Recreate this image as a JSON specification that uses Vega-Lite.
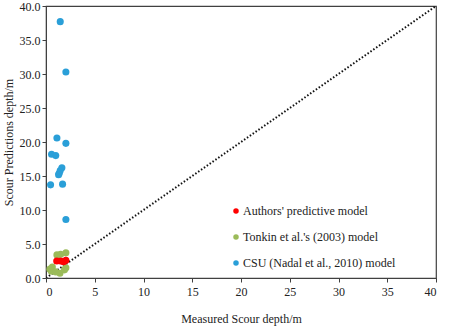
{
  "$schema": "https://vega.github.io/schema/vega-lite/v6.json",
  "width": 390,
  "height": 272,
  "autosize": {"type": "none"},
  "padding": {"left": 46, "top": 6, "right": 38, "bottom": 57},
  "background": "white",
  "config": {
    "view": {"stroke": "#404040", "strokeWidth": 1.2},
    "font": "Liberation Serif",
    "axis": {"labelFont": "Liberation Serif", "titleFont": "Liberation Serif", "labelFontSize": 12, "titleFontSize": 12, "titleFontWeight": "normal", "labelColor": "#222", "titleColor": "#222", "domainColor": "#404040", "tickColor": "#404040", "grid": false, "labelOverlap": false},
    "legend": {"labelFont": "Liberation Serif", "labelFontSize": 12, "labelColor": "#222"}
  },
  "datasets": {
    "pts": [
      {"m": 1.46, "p": 37.7, "model": "CSU (Nadal et al., 2010) model"},
      {"m": 2.04, "p": 30.3, "model": "CSU (Nadal et al., 2010) model"},
      {"m": 1.12, "p": 20.6, "model": "CSU (Nadal et al., 2010) model"},
      {"m": 2.04, "p": 19.8, "model": "CSU (Nadal et al., 2010) model"},
      {"m": 0.57, "p": 18.2, "model": "CSU (Nadal et al., 2010) model"},
      {"m": 1.0, "p": 18.0, "model": "CSU (Nadal et al., 2010) model"},
      {"m": 1.63, "p": 16.2, "model": "CSU (Nadal et al., 2010) model"},
      {"m": 1.46, "p": 15.8, "model": "CSU (Nadal et al., 2010) model"},
      {"m": 1.36, "p": 15.4, "model": "CSU (Nadal et al., 2010) model"},
      {"m": 1.29, "p": 15.2, "model": "CSU (Nadal et al., 2010) model"},
      {"m": 0.47, "p": 13.7, "model": "CSU (Nadal et al., 2010) model"},
      {"m": 1.7, "p": 13.8, "model": "CSU (Nadal et al., 2010) model"},
      {"m": 2.04, "p": 8.6, "model": "CSU (Nadal et al., 2010) model"},
      {"m": 1.12, "p": 3.4, "model": "Tonkin et al.'s (2003) model"},
      {"m": 1.5, "p": 3.5, "model": "Tonkin et al.'s (2003) model"},
      {"m": 2.04, "p": 3.7, "model": "Tonkin et al.'s (2003) model"},
      {"m": 0.4, "p": 1.3, "model": "Tonkin et al.'s (2003) model"},
      {"m": 0.65, "p": 1.6, "model": "Tonkin et al.'s (2003) model"},
      {"m": 0.55, "p": 1.0, "model": "Tonkin et al.'s (2003) model"},
      {"m": 1.0, "p": 0.9, "model": "Tonkin et al.'s (2003) model"},
      {"m": 1.43, "p": 0.7, "model": "Tonkin et al.'s (2003) model"},
      {"m": 1.9, "p": 1.2, "model": "Tonkin et al.'s (2003) model"},
      {"m": 2.04, "p": 1.5, "model": "Tonkin et al.'s (2003) model"},
      {"m": 1.1, "p": 2.5, "model": "Authors' predictive model"},
      {"m": 1.5, "p": 2.5, "model": "Authors' predictive model"},
      {"m": 1.8, "p": 2.4, "model": "Authors' predictive model"},
      {"m": 2.04, "p": 2.6, "model": "Authors' predictive model"}
    ],
    "diag": [{"m": 0, "p": 0}, {"m": 40, "p": 40}]
  },
  "encoding": {
    "x": {"field": "m", "type": "quantitative", "scale": {"domain": [0, 40], "nice": false}, "axis": {"values": [0, 5, 10, 15, 20, 25, 30, 35, 40], "format": "d", "title": "Measured Scour depth/m", "tickSize": 4, "labelPadding": 4, "titlePadding": 16, "labelOverlap": false}},
    "y": {"field": "p", "type": "quantitative", "scale": {"domain": [0, 40], "nice": false}, "axis": {"values": [0, 5, 10, 15, 20, 25, 30, 35, 40], "format": ".1f", "title": "Scour Predictions depth/m", "tickSize": 4, "labelPadding": 2, "titlePadding": 4, "labelOverlap": false}}
  },
  "layer": [
    {
      "data": {"name": "diag"},
      "mark": {"type": "line", "color": "#111", "strokeDash": [1.5, 2], "strokeWidth": 2, "clip": true}
    },
    {
      "data": {"name": "pts"},
      "mark": {"type": "circle", "size": 50, "opacity": 1},
      "encoding": {
        "color": {"field": "model", "type": "nominal", "scale": {"domain": ["Authors' predictive model", "Tonkin et al.'s (2003) model", "CSU (Nadal et al., 2010) model"], "range": ["#ff0000", "#9bbb59", "#2a9fd8"]},
          "legend": {"title": null, "orient": "none", "legendX": 184, "legendY": 199, "symbolType": "circle", "symbolSize": 30, "symbolOpacity": 1, "rowPadding": 14, "labelOffset": 1}}
      }
    }
  ]
}
